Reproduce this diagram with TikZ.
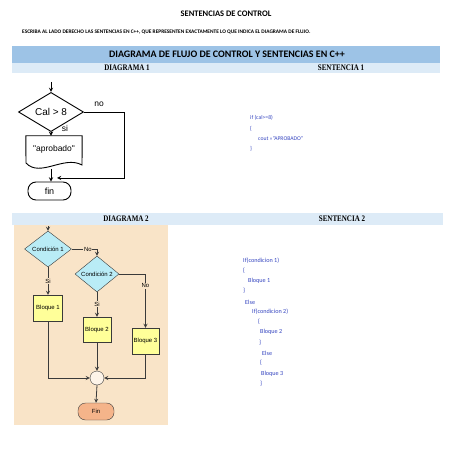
\documentclass[tikz,border=0pt]{standalone}
\usepackage{fontspec}
\setmainfont{Carlito}
\newfontfamily\arialf{Liberation Sans}
\newfontfamily\timesf{Liberation Serif}
\usetikzlibrary{shapes.geometric}
\definecolor{bandaosc}{HTML}{9DC3E6}
\definecolor{bandacla}{HTML}{DDEBF7}
\definecolor{fondo}{HTML}{F9E4C8}
\definecolor{celeste}{HTML}{B9ECF6}
\definecolor{amarillo}{HTML}{FFFF99}
\definecolor{naranja}{HTML}{F5B48A}
\definecolor{codigo}{HTML}{3545C0}
\definecolor{linea}{HTML}{3A3A3A}
\newcommand{\subtitulo}[1]{\scalebox{0.83}[1]{\timesf\bfseries #1}}
\begin{document}
\begin{tikzpicture}[x=1bp, y=-1bp, >=stealth,
    decision/.style={diamond, draw, inner sep=0pt},
    bloque/.style={rectangle, draw=linea, fill=amarillo, inner sep=0pt,
      font=\arialf\fontsize{6}{7}\selectfont},
    terminal/.style={rectangle, draw, inner sep=0pt},
    etiq/.style={font=\arialf\fontsize{8.5}{10}\selectfont, inner sep=0pt},
    etiqb/.style={font=\arialf\fontsize{6}{7}\selectfont, fill=fondo, inner sep=0.6bp},
    flujo/.style={->, draw=linea, line width=0.8bp},
    cod/.style={anchor=west, inner sep=0pt, text=codigo},
    subtit/.style={font=\fontsize{8.5}{10}\selectfont, inner sep=0pt}]
  \useasboundingbox (0,0) rectangle (453,453);
  \fill[white] (0,0) rectangle (453,453);
  % encabezado
  \fill[bandaosc] (12,46) rectangle (440,63);
  \fill[bandacla] (12,63) rectangle (440,73);
  \fill[bandacla] (12,213) rectangle (443,225);
  \node[font=\bfseries\fontsize{8.5}{10}\selectfont] (titulo) at (226,14) {SENTENCIAS DE CONTROL};
  \node[anchor=west, inner sep=0pt, font=\bfseries\fontsize{5.4}{6}\selectfont] (indica) at (22,32)
    {ESCRIBA AL LADO DERECHO LAS SENTENCIAS EN C++, QUE REPRESENTEN EXACTAMENTE LO QUE INDICA EL DIAGRAMA DE FLUJO.};
  \node[font=\bfseries\fontsize{10}{12}\selectfont] (cabecera) at (227,54)
    {DIAGRAMA DE FLUJO DE CONTROL Y SENTENCIAS EN C++};
  \node[subtit] (dia1) at (127,68) {\subtitulo{DIAGRAMA 1}};
  \node[subtit] (sen1) at (341,68) {\subtitulo{SENTENCIA 1}};
  \node[subtit] (dia2) at (126,219) {\subtitulo{DIAGRAMA 2}};
  \node[subtit] (sen2) at (342,219) {\subtitulo{SENTENCIA 2}};

  % diagrama 1
  \coordinate (ini1) at (51,82);
  \node[decision, line width=0.9bp, minimum width=65bp, minimum height=25bp,
    font=\arialf\fontsize{10}{12}\selectfont] (cal) at (51,112) {Cal > 8};
  \node[inner sep=0pt, minimum width=56bp, minimum height=26bp,
    font=\arialf\fontsize{8.5}{10}\selectfont] (apro) at (54,149) {"aprobado"};
  \draw[line width=0.9bp] (apro.north west) -- (apro.north east) -- (82,165)
    .. controls (64,155) and (40,178) .. (26,163) -- cycle;
  \coordinate (apro-b) at (51,169);
  \node[terminal, line width=0.9bp, minimum width=43bp, minimum height=18bp, rounded corners=8bp,
    font=\arialf\fontsize{9}{10}\selectfont] (fin1) at (49.5,191) {fin};
  \coordinate (esq1) at (124,112);
  \coordinate (nofin) at (57,178);
  \draw[->, line width=0.9bp] (ini1) -- (cal.north);
  \draw[->, line width=0.9bp] (cal.south) -- (apro.north -| cal.south);
  \draw[->, line width=0.9bp] (apro-b) -- (apro-b |- fin1.north);
  \draw[->, line width=0.9bp] (cal.east) -- (esq1) |- (nofin);
  \node[etiq] (no1) at (99,104) {no};
  \node[etiq] (si1) at (65,128) {si};

  % codigo 1
  \begin{scope}[cod/.append style={font=\fontsize{5.7}{6}\selectfont}]
    \node[cod] (a1) at (250,118) {if (cal>=8)};
    \node[cod] (a2) at (250,129) {\{};
    \node[cod] (a3) at (258,139) {cout <<"APROBADO"};
    \node[cod] (a4) at (250,149) {\}};
  \end{scope}

  % diagrama 2
  \fill[fondo] (14,225) rectangle (168,425);
  \coordinate (ini2) at (48,226);
  \node[decision, draw=linea, fill=celeste, minimum width=47bp, minimum height=23bp,
    font=\arialf\fontsize{6}{7}\selectfont] (cond1) at (48,249) {Condición 1};
  \node[decision, draw=linea, fill=celeste, minimum width=44bp, minimum height=23bp,
    font=\arialf\fontsize{6}{7}\selectfont] (cond2) at (97,274) {Condición 2};
  \node[bloque, minimum width=29bp, minimum height=26bp] (b1) at (48,308) {Bloque 1};
  \node[bloque, minimum width=28bp, minimum height=25bp] (b2) at (97,329.5) {Bloque 2};
  \node[bloque, minimum width=27bp, minimum height=26bp] (b3) at (145.5,341) {Bloque 3};
  \node[circle, draw=linea, fill=white!60!fondo, minimum size=14bp, inner sep=0pt] (une) at (97,378) {};
  \node[terminal, draw=linea, fill=naranja, minimum width=36bp, minimum height=17bp,
    rounded corners=7.5bp, font=\arialf\fontsize{6}{7}\selectfont] (fin2) at (96,411.5) {Fin};
  \draw[flujo] (ini2) -- (cond1.north);
  \draw[flujo] (cond1.east) -| (cond2.north) node[etiqb, pos=0.32] {No};
  \draw[flujo] (cond1.south) -- (b1.north) node[etiqb, pos=0.5] {Si};
  \draw[flujo] (cond2.south) -- (b2.north) node[etiqb, pos=0.48] {Si};
  \draw[flujo] (cond2.east) -| (b3.north) node[etiqb, pos=0.61] {No};
  \draw[flujo] (b1.south) |- (une.west);
  \draw[flujo] (b2.south) -- (une.north);
  \draw[flujo] (b3.south) |- (une.east);
  \draw[flujo] (une.south) -- (fin2.north);

  % codigo 2
  \begin{scope}[cod/.append style={font=\fontsize{6.2}{7}\selectfont}]
    \node[cod] (l1) at (243,261) {If(condicion 1)};
    \node[cod] (l2) at (243,271) {\{};
    \node[cod] (l3) at (248,281) {Bloque 1};
    \node[cod] (l4) at (243,291) {\}};
    \node[cod] (l5) at (245,302) {Else};
    \node[cod] (l6) at (252,312) {If(condicion 2)};
    \node[cod] (l7) at (258,322) {\{};
    \node[cod] (l8) at (260,332) {Bloque 2};
    \node[cod] (l9) at (259,343) {\}};
    \node[cod] (l10) at (262,353) {Else};
    \node[cod] (l11) at (260,363) {\{};
    \node[cod] (l12) at (261,374) {Bloque 3};
    \node[cod] (l13) at (260,384) {\}};
  \end{scope}
\end{tikzpicture}
\end{document}
